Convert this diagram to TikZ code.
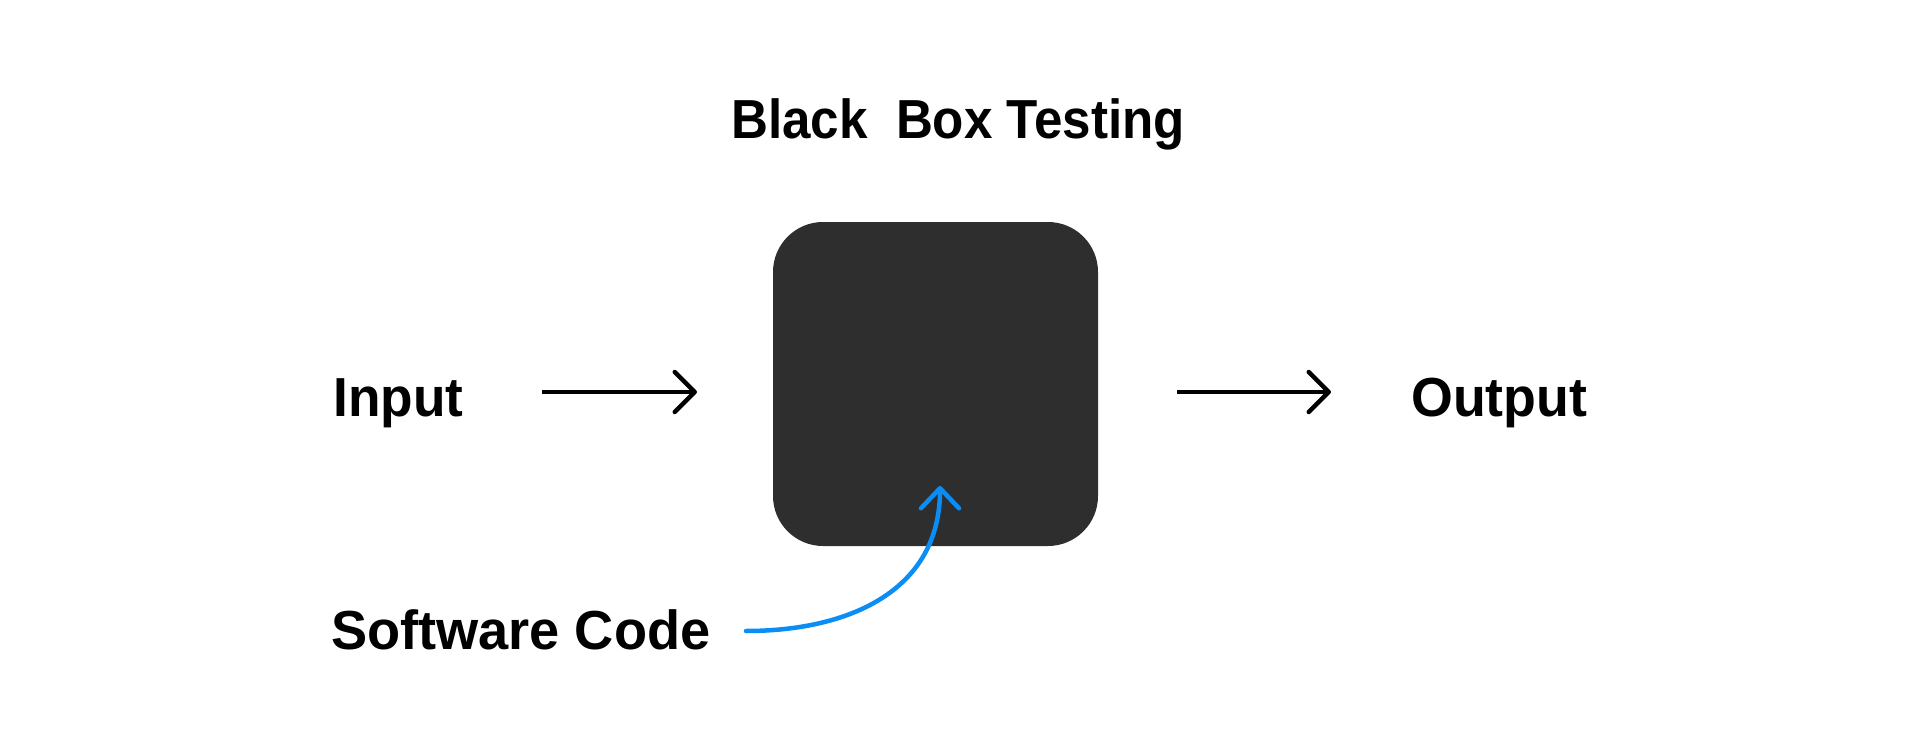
\documentclass[tikz,border=0pt]{standalone}
\usepackage{fontspec}
\setmainfont{Liberation Sans}
\usetikzlibrary{arrows.meta}
\definecolor{boxgray}{HTML}{2E2E2E}
\definecolor{codeblue}{HTML}{0A8DF5}
\begin{document}
\begin{tikzpicture}[x=1pt,y=-1pt,
  lbl/.style={inner sep=0pt,anchor=base west,font=\fontsize{55}{60}\selectfont\bfseries},
  arr/.style={line width=4.5pt,-{Straight Barb[length=20pt,width=40pt,round]}},
  bluearr/.style={line width=4.5pt,codeblue,line cap=round,-{Straight Barb[length=20pt,width=38pt,round]}}]
\useasboundingbox (0,0) rectangle (1920,741);
\node[lbl] (title) at (731,139) {\scalebox{0.93}[1]{Black\ \ Box Testing}};
\node[lbl] (input) at (333,416) {\scalebox{0.968}[1]{Input}};
\node[lbl] (output) at (1411,416) {\scalebox{0.977}[1]{Output}};
\node[lbl] (code) at (331,649) {\scalebox{0.985}[1]{Software Code}};
\node[fill=boxgray,rounded corners=50pt,minimum width=325pt,minimum height=324pt,inner sep=0pt] (box) at (935.5,384) {};
\coordinate (inS) at (542,392);
\coordinate (inE) at (697,392);
\coordinate (outS) at (1177,392);
\coordinate (outE) at (1331,392);
\coordinate (codeS) at (746,631);
\coordinate (codeE) at (940,486);
\draw[arr] (inS) -- (inE);
\draw[arr] (outS) -- (outE);
\draw[bluearr] (codeS) .. controls (850,631) and (940,590) .. (codeE);
\end{tikzpicture}
\end{document}
